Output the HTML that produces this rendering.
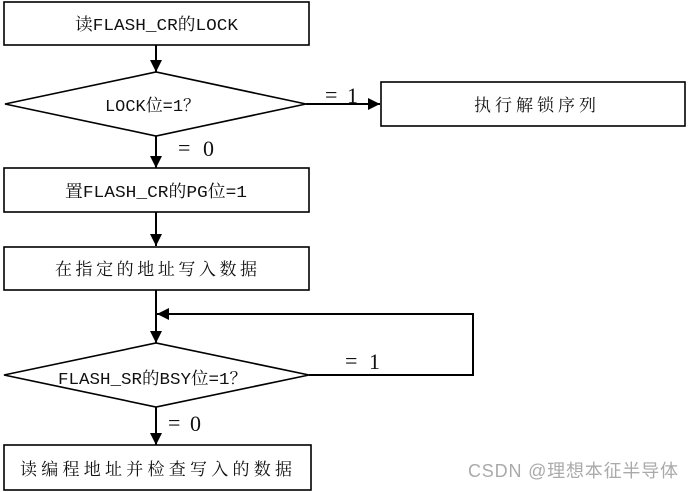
<!DOCTYPE html>
<html><head><meta charset="utf-8"><style>
html,body{margin:0;padding:0;background:#fff;width:691px;height:492px;overflow:hidden}
svg text{font-family:"Liberation Serif","Noto Serif CJK SC","Noto Sans CJK SC",serif;fill:#111}
svg text.m{font-family:"Liberation Mono","Noto Serif CJK SC","Noto Sans CJK SC",monospace}
</style></head><body>
<svg width="691" height="492" viewBox="0 0 691 492" xmlns="http://www.w3.org/2000/svg">
<defs><marker id="a" markerWidth="13" markerHeight="13" refX="12" refY="6" orient="auto" markerUnits="userSpaceOnUse"><path d="M0,0 L12,6 L0,12 z" fill="#000"/></marker></defs>
<g fill="none" stroke="#000" stroke-width="1.6">
<rect x="4" y="2" width="305" height="43"/>
<line x1="156" y1="45" x2="156" y2="72" marker-end="url(#a)" stroke-width="2"/>
<polygon points="5,104 156,72 306,104 156,136"/>
<line x1="306" y1="104" x2="380" y2="104" marker-end="url(#a)" stroke-width="2"/>
<rect x="381" y="82" width="304" height="44"/>
<line x1="156" y1="136" x2="156" y2="168" marker-end="url(#a)" stroke-width="2"/>
<rect x="4" y="168" width="305" height="44"/>
<line x1="156" y1="212" x2="156" y2="246" marker-end="url(#a)" stroke-width="2"/>
<rect x="4" y="247" width="305" height="43"/>
<line x1="156" y1="290" x2="156" y2="343" marker-end="url(#a)" stroke-width="2"/>
<polygon points="4,375 156,343 309,375 156,407"/>
<polyline points="309,375 473,375 473,314 157,314" marker-end="url(#a)" stroke-width="2"/>
<line x1="156" y1="407" x2="156" y2="445" marker-end="url(#a)" stroke-width="2"/>
<rect x="4" y="445" width="307" height="45"/>
</g>
<g font-size="17">
<text class="m" x="75" y="30" textLength="163" lengthAdjust="spacingAndGlyphs">读FLASH_CR的LOCK</text>
<text class="m" x="105" y="111" textLength="95" lengthAdjust="spacingAndGlyphs">LOCK位=1？</text>
<text x="474" y="111" textLength="122">执行解锁序列</text>
<text class="m" x="65" y="197" textLength="182" lengthAdjust="spacingAndGlyphs">置FLASH_CR的PG位=1</text>
<text x="55" y="275" textLength="202">在指定的地址写入数据</text>
<text class="m" x="58" y="384" textLength="189" lengthAdjust="spacingAndGlyphs">FLASH_SR的BSY位=1？</text>
<text x="20" y="475" textLength="272">读编程地址并检查写入的数据</text>
</g>
<g font-size="22">
<text x="325" y="102">=</text><text x="347" y="103">1</text>
<text x="178" y="155">=</text><text x="203" y="156">0</text>
<text x="345" y="368">=</text><text x="369" y="369">1</text>
<text x="168" y="430">=</text><text x="190" y="431">0</text>
</g>
<text x="468" y="477" font-size="18" textLength="210" style="font-family:'Liberation Sans','Noto Sans CJK SC',sans-serif;fill:#aaa">CSDN @理想本征半导体</text>
</svg>
</body></html>
